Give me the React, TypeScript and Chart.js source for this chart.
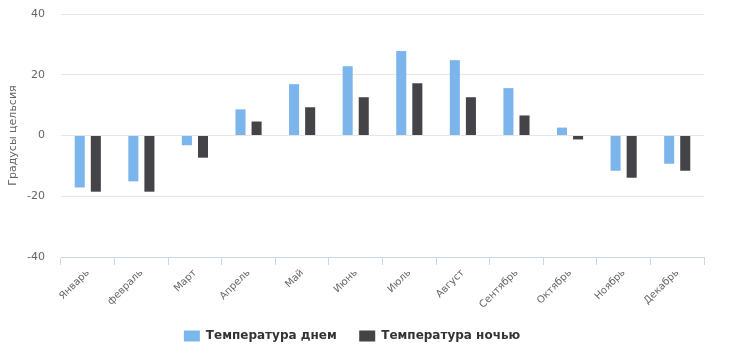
import React, { useEffect, useRef } from 'react';
import { Chart, registerables } from 'chart.js';
Chart.register(...registerables);

const categories = ['Январь', 'февраль', 'Март', 'Апрель', 'Май', 'Июнь', 'Июль', 'Август', 'Сентябрь', 'Октябрь', 'Ноябрь', 'Декабрь'];
const dayTemps = [-17.1, -15.1, -3.2, 8.6, 16.9, 22.8, 27.8, 24.8, 15.6, 2.6, -11.6, -9.3];
const nightTemps = [-18.5, -18.5, -7.3, 4.6, 9.3, 12.6, 17.2, 12.6, 6.6, -1.3, -13.9, -11.6];
const seriesNames = ['Температура днем', 'Температура ночью'];
const yTitle = 'Градусы цельсия';
const yMin = -40;
const yMax = 40;
const yStep = 20;

export default function App() {
  const ref = useRef<HTMLCanvasElement | null>(null);
  useEffect(() => {
    if (!ref.current) return;
    const font = 'DejaVu Sans';
    const chart = new Chart(ref.current, {
      type: 'bar',
      data: {
        labels: categories,
        datasets: [
          { label: seriesNames[0], data: dayTemps, backgroundColor: '#7cb5ec', borderWidth: 0 },
          { label: seriesNames[1], data: nightTemps, backgroundColor: '#434348', borderWidth: 0 },
        ],
      },
      options: {
        animation: false,
        responsive: false,
        maintainAspectRatio: false,
        datasets: { bar: { categoryPercentage: 0.6, barPercentage: 0.625 } },
        layout: { padding: { left: 0, right: 27, top: 14, bottom: 0 } },
        plugins: {
          tooltip: { enabled: false },
          legend: {
            position: 'bottom',
            labels: {
              boxWidth: 16,
              boxHeight: 11,
              padding: 10,
              color: '#333333',
              font: { family: font, size: 12, weight: 'bold' },
              generateLabels: (c: any) => {
                const items = Chart.defaults.plugins.legend.labels.generateLabels(c);
                return items.map((it: any, i: number) => ({
                  ...it,
                  text: i < items.length - 1 ? it.text + '   ' : it.text,
                }));
              },
            },
          },
        },
        scales: {
          x: {
            offset: true,
            grid: {
              offset: true,
              drawOnChartArea: false,
              drawTicks: true,
              tickLength: 8,
              color: '#ccd6eb',
            },
            border: { display: true, color: '#ccd6eb', width: 1 },
            ticks: {
              autoSkip: false,
              maxRotation: 45,
              minRotation: 45,
              color: '#666666',
              font: { family: font, size: 10 },
              padding: 2,
            },
            afterFit: (s: any) => { s.height = 63; },
          },
          y: {
            min: yMin,
            max: yMax,
            ticks: {
              stepSize: yStep,
              color: '#666666',
              font: { family: font, size: 11 },
              padding: 0,
            },
            grid: {
              drawTicks: true,
              tickLength: 16,
              tickColor: 'rgba(0,0,0,0)',
              color: (c: any) => (c.tick && c.tick.value === yMin ? 'rgba(0,0,0,0)' : '#e6e6e6'),
            },
            border: { display: false },
            title: {
              display: true,
              text: yTitle,
              color: '#666666',
              font: { family: font, size: 11 },
              padding: { top: 7, bottom: 0 },
            },
            afterFit: (s: any) => { s.width = 61; },
          },
        },
      },
    });
    return () => chart.destroy();
  }, []);
  return (
    <div style={{ position: 'absolute', left: 0, top: 0, width: 731, height: 352, background: '#fff' }}>
      <canvas ref={ref} width={731} height={352} style={{ width: 731, height: 352 }} />
    </div>
  );
}
